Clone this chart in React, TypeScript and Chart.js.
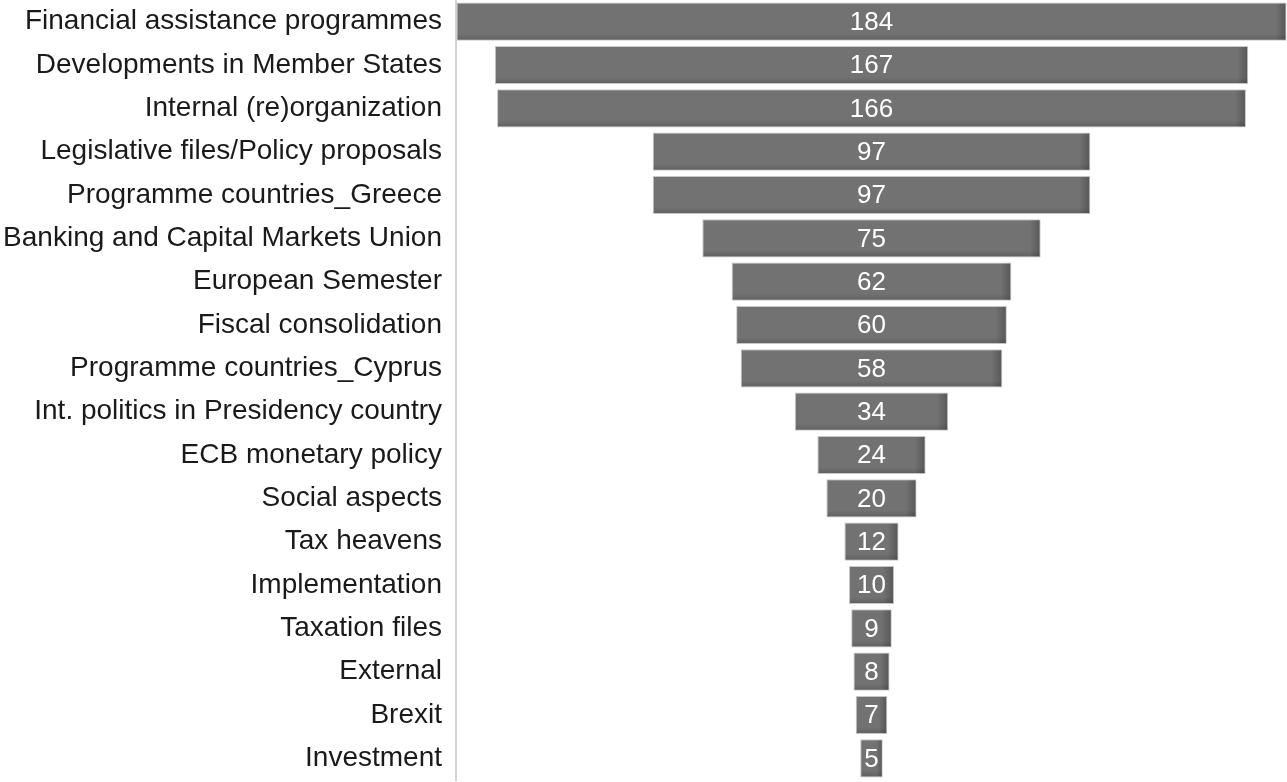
import React, { useEffect, useRef } from "react";
import { Chart, registerables } from "chart.js";

Chart.register(...registerables);

const categories = [
  "Financial assistance programmes",
  "Developments in Member States",
  "Internal (re)organization",
  "Legislative files/Policy proposals",
  "Programme countries_Greece",
  "Banking and Capital Markets Union",
  "European Semester",
  "Fiscal consolidation",
  "Programme countries_Cyprus",
  "Int. politics in Presidency country",
  "ECB monetary policy",
  "Social aspects",
  "Tax heavens",
  "Implementation",
  "Taxation files",
  "External",
  "Brexit",
  "Investment",
];

const values = [184, 167, 166, 97, 97, 75, 62, 60, 58, 34, 24, 20, 12, 10, 9, 8, 7, 5];

const shadePlugin = {
  id: "barShade",
  afterDatasetsDraw(chart: any) {
    const ctx = chart.ctx;
    const meta = chart.getDatasetMeta(0);
    ctx.save();
    meta.data.forEach((el: any) => {
      const left = Math.min(el.x, el.base) + 1;
      const right = Math.max(el.x, el.base) - 1;
      const top = el.y - el.height / 2 + 1;
      const bottom = el.y + el.height / 2 - 1;
      const w = right - left;
      const h = bottom - top;
      const sw = Math.min(10, w / 4);
      const g = ctx.createLinearGradient(right - sw, 0, right, 0);
      g.addColorStop(0, "rgba(0,0,0,0)");
      g.addColorStop(1, "rgba(0,0,0,0.22)");
      ctx.fillStyle = g;
      ctx.fillRect(right - sw, top, sw, h);
      const sh = 6;
      const gb = ctx.createLinearGradient(0, bottom - sh, 0, bottom);
      gb.addColorStop(0, "rgba(0,0,0,0)");
      gb.addColorStop(1, "rgba(0,0,0,0.14)");
      ctx.fillStyle = gb;
      ctx.fillRect(left, bottom - sh, w, sh);
    });
    ctx.restore();
  },
};

const valueLabelPlugin = {
  id: "valueLabels",
  afterDatasetsDraw(chart: any) {
    const ctx = chart.ctx;
    const meta = chart.getDatasetMeta(0);
    ctx.save();
    ctx.fillStyle = "#ffffff";
    ctx.font = "26px 'Liberation Sans', Arial, sans-serif";
    ctx.textAlign = "center";
    ctx.textBaseline = "middle";
    meta.data.forEach((el: any, i: number) => {
      const cx = (el.x + el.base) / 2;
      ctx.fillText(String(values[i]), cx, el.y + 1);
    });
    ctx.restore();
  },
};

export default function App() {
  const ref = useRef<HTMLCanvasElement | null>(null);

  useEffect(() => {
    document.body.style.margin = "0";
    const canvas = ref.current;
    if (!canvas) return;
    const chart = new Chart(canvas, {
      type: "bar",
      data: {
        labels: categories,
        datasets: [
          {
            data: values.map((v) => [-v / 2, v / 2]) as any,
            backgroundColor: "#727272",
            borderColor: "#c8c8c8",
            borderWidth: 1,
            borderSkipped: false,
            barPercentage: 0.88,
            categoryPercentage: 1,
          },
        ],
      },
      options: {
        indexAxis: "y",
        animation: false,
        responsive: false,
        maintainAspectRatio: false,
        layout: { padding: { top: 0, bottom: 2, left: 0, right: 0 } },
        plugins: {
          legend: { display: false },
          tooltip: { enabled: false },
        },
        scales: {
          x: {
            display: false,
            min: -92.1,
            max: 92.1,
          },
          y: {
            afterFit(scale: any) {
              scale.width = 456;
              scale.paddingTop = 0;
              scale.paddingBottom = 0;
            },
            grid: { display: false, drawTicks: false },
            border: { display: true, color: "#d2d2d2", width: 2 },
            ticks: {
              color: "#1a1a1a",
              padding: 14,
              autoSkip: false,
              font: { family: "'Liberation Sans', Arial, sans-serif", size: 28 },
            },
          },
        },
      },
      plugins: [shadePlugin, valueLabelPlugin],
    });
    return () => chart.destroy();
  }, []);

  return (
    <div style={{ width: 1287, height: 782, background: "#fff" }}>
      <canvas ref={ref} width={1287} height={782} />
    </div>
  );
}
